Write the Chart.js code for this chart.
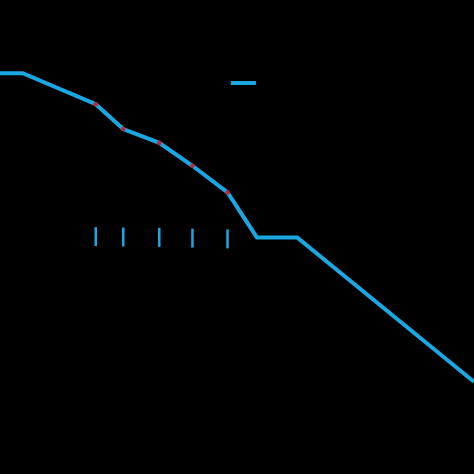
<!DOCTYPE html>
<html>
<head>
<meta charset="utf-8">
<script src="https://cdn.jsdelivr.net/npm/chart.js@4.4.0/dist/chart.umd.min.js"></script>
<style>
  html, body { margin: 0; padding: 0; background: #000; }
  #chart { display: block; }
</style>
</head>
<body>
<canvas id="chart" width="474" height="474"></canvas>
<script>
// Datos de la serie principal
const xValues = [0, 4.8, 20.2, 26.0, 33.6, 40.6, 48.0, 54.2, 62.7, 100];
const lineValues = [106.9, 106.9, 98.6, 92.0, 88.3, 82.2, 75.1, 63.1, 63.1, 24.6];

// Marcas verticales (debajo de los puntos rojos)
const tickX = [20.2, 26.0, 33.6, 40.6, 48.0];
const tickY = [63.3, 63.2, 63.1, 62.9, 62.7];

const seriesLabel = 'Share of respondents over time (in %)';

const lineColor = '#1ba8e2';
const markColor = '#b8283f';

// ¿el punto lleva marca roja?
const isMarked = c => tickX.includes(xValues[c.dataIndex]);

function initChart() {
    const ctx = document.getElementById('chart').getContext('2d');

    const data = {
        datasets: [{
            label: seriesLabel,
            data: xValues.map((x, i) => ({ x: x, y: lineValues[i] })),
            borderColor: lineColor,
            backgroundColor: lineColor,
            borderWidth: 4,
            tension: 0,
            clip: false,
            // puntos rojos solo donde hay marca vertical
            pointRadius: c => isMarked(c) ? 2.3 : 0,
            pointHoverRadius: 0,
            pointBorderWidth: c => isMarked(c) ? 0 : 4, // el resto no se dibuja, pero la leyenda usa el punto 0
            pointBorderColor: lineColor,
            pointBackgroundColor: c => isMarked(c) ? markColor : lineColor
        }, {
            label: 'marks',
            data: tickX.map((x, i) => ({ x: x, y: tickY[i] })),
            showLine: false,
            pointStyle: 'line',
            pointRotation: 90,
            pointRadius: 9.5,
            pointHoverRadius: 9.5,
            pointBorderWidth: 2.5,
            pointBorderColor: lineColor,
            borderColor: lineColor
        }]
    };

    const config = {
        type: 'line',
        data: data,
        options: {
            responsive: false,
            animation: false,
            devicePixelRatio: 1,
            layout: { autoPadding: false, padding: { top: 67 } },
            scales: {
                x: { type: 'linear', min: 0, max: 100, display: false },
                y: { type: 'linear', min: 0, max: 100, display: false }
            },
            plugins: {
                legend: {
                    position: 'top',
                    align: 'end',
                    labels: {
                        usePointStyle: true,
                        pointStyle: 'line',
                        pointStyleWidth: 25,
                        color: '#000',
                        font: { family: 'Liberation Sans', size: 12 },
                        filter: item => item.datasetIndex === 0
                    }
                },
                tooltip: { enabled: false }
            }
        }
    };

    new Chart(ctx, config);
}

document.addEventListener('DOMContentLoaded', initChart);
</script>
</body>
</html>
